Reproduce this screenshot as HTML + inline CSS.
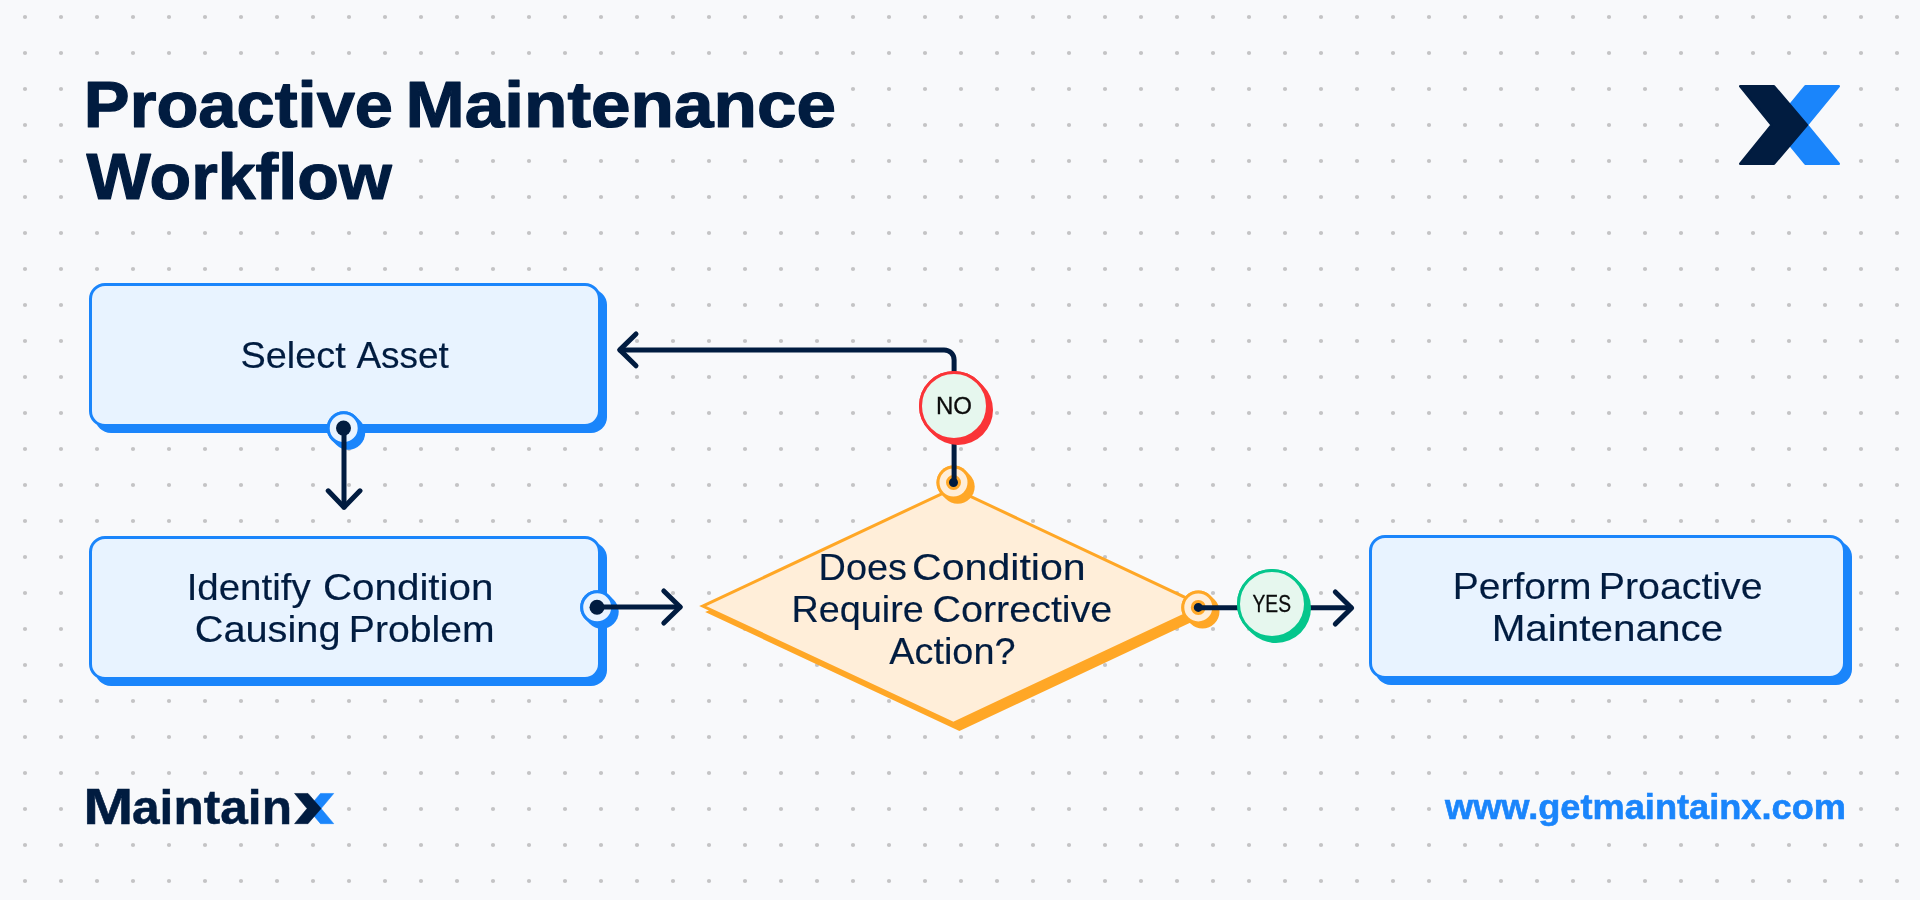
<!DOCTYPE html>
<html lang="en">
<head>
<meta charset="utf-8">
<title>Proactive Maintenance Workflow</title>
<style>
  html, body { margin: 0; padding: 0; }
  body { width: 1920px; height: 900px; overflow: hidden; background: #f8f9fb; font-family: "Liberation Sans", sans-serif; }
  svg { display: block; position: absolute; left: 0; top: 0; will-change: transform; }
  text { font-family: "Liberation Sans", sans-serif; }
  .navy { fill: #011c40; }
  .lbl { fill: #011c40; font-size: 36px; stroke: #011c40; stroke-width: 0.15px; }
</style>
</head>
<body>
<svg width="1920" height="900" viewBox="0 0 1920 900">
  <defs>
    <pattern id="dots" x="7" y="-1" width="36" height="36" patternUnits="userSpaceOnUse">
      <circle cx="18" cy="18" r="2.1" fill="#c4c4c5"/>
    </pattern>
  </defs>

  <!-- background + dotted grid -->
  <rect x="0" y="0" width="1920" height="900" fill="#f8f9fb"/>
  <rect x="0" y="0" width="1920" height="900" fill="url(#dots)"/>

  <!-- masks that hide the dots behind headline / logos / url -->
  <g fill="#f8f9fb">
    <rect x="84" y="60" width="756" height="90"/>
    <rect x="84" y="132" width="314" height="90"/>
    <rect x="1736" y="82" width="107" height="86"/>
    <rect x="84" y="786" width="254" height="42"/>
    <rect x="1442" y="790" width="407" height="40"/>
  </g>

  <!-- headline -->
  <g class="navy" font-weight="700" font-size="64.5" stroke="#011c40" stroke-width="1.2" stroke-linejoin="round">
    <text x="83.86" y="126.6" textLength="309.18" lengthAdjust="spacingAndGlyphs">Proactive</text>
    <text x="405.45" y="126.6" textLength="430.65" lengthAdjust="spacingAndGlyphs">Maintenance</text>
    <text x="86.49" y="198.6" textLength="305.40" lengthAdjust="spacingAndGlyphs">Workflow</text>
  </g>

  <!-- top-right X logo -->
  <g id="xlogo" transform="translate(1739,85)" stroke-linejoin="round" stroke-width="2.4">
    <path d="M66.400 1.200 L99.800 1.200 L68 40 L99.800 78.800 L66.400 78.800 L34.500 40 Z" fill="#1a85fb" stroke="#1a85fb"/>
    <path d="M1.200 1.200 L35 1.200 L68 40 L35 78.800 L1.200 78.800 L32.600 40 Z" fill="#011c40" stroke="#011c40"/>
  </g>

  <!-- ===== boxes ===== -->
  <!-- box 1 : Select Asset -->
  <g id="box1">
    <rect x="95" y="289" width="512" height="144" rx="16" ry="16" fill="#1a85fb"/>
    <rect x="90.5" y="284.5" width="509" height="141" rx="14.5" ry="14.5" fill="#e8f3ff" stroke="#1a85fb" stroke-width="3"/>
  </g>
  <!-- box 2 : Identify Condition -->
  <g id="box2">
    <rect x="95" y="542" width="512" height="144" rx="16" ry="16" fill="#1a85fb"/>
    <rect x="90.5" y="537.5" width="509" height="141" rx="14.5" ry="14.5" fill="#e8f3ff" stroke="#1a85fb" stroke-width="3"/>
  </g>
  <!-- box 3 : Perform Proactive Maintenance -->
  <g id="box3">
    <rect x="1375" y="541" width="477" height="144" rx="16" ry="16" fill="#1a85fb"/>
    <rect x="1370.5" y="536.5" width="474" height="141" rx="14.5" ry="14.5" fill="#e8f3ff" stroke="#1a85fb" stroke-width="3"/>
  </g>

  <!-- diamond -->
  <g id="diamond">
    <path d="M702.7 606.1 L953.4 488.3 L1203.500 606.1 L953.4 723.3 Z" transform="translate(6,6)" fill="#ffa726" stroke="#ffa726" stroke-width="3"/>
    <path d="M702.7 606.1 L953.4 488.3 L1203.500 606.1 L953.4 723.3 Z" fill="#ffeed9" stroke="#ffa726" stroke-width="3" stroke-linejoin="miter"/>
  </g>

  <!-- ===== connector rings ===== -->
  <g fill="none" stroke-linecap="round" stroke-width="34">
    <path d="M343.7 428.2 l4.500 4.500" stroke="#1a85fb"/>
    <path d="M597.2 607.3 l4.500 4.500" stroke="#1a85fb"/>
    <path d="M953.5 482.5 l4.200 4.200" stroke="#ffa726"/>
    <path d="M1198.3 607.4 l4.200 4.200" stroke="#ffa726"/>
  </g>
  <circle cx="343.7" cy="428.2" r="15.5" fill="#e8f3ff" stroke="#1a85fb" stroke-width="3"/>
  <circle cx="597.2" cy="607.3" r="15.5" fill="#e8f3ff" stroke="#1a85fb" stroke-width="3"/>
  <circle cx="953.5" cy="482.5" r="15.5" fill="#ffeed9" stroke="#ffa726" stroke-width="3"/>
  <circle cx="1198.3" cy="607.4" r="15.5" fill="#ffeed9" stroke="#ffa726" stroke-width="3"/>

  <!-- ===== connector lines / arrows ===== -->
  <circle cx="953.5" cy="482.5" r="6" fill="#011c40" stroke="#ffa726" stroke-width="3"/>
  <circle cx="1198.3" cy="607.4" r="6" fill="#011c40" stroke="#ffa726" stroke-width="3"/>
  <g fill="none" stroke="#011c40" stroke-width="5" stroke-linecap="round" stroke-linejoin="round">
    <!-- box1 -> box2 -->
    <path d="M344 428 V507"/>
    <path d="M328.2 490.8 L344 507.2 L360 490.8"/>
    <!-- box2 -> diamond -->
    <path d="M597 607.1 H680"/>
    <path d="M663.8 591 L680.2 607 L663.8 623"/>
    <!-- diamond -> NO -> box1 -->
    <path d="M954.1 483 V360 A10 10 0 0 0 944.1 349.900 H620"/>
    <path d="M636 334 L619.800 349.900 L636 365.800"/>
    <!-- diamond -> YES -> box3 -->
    <path d="M1198.500 607.700 H1351"/>
    <path d="M1335.300 592 L1351.600 608 L1335.300 624"/>
  </g>
  <circle cx="343.5" cy="428.1" r="7.5" fill="#011c40"/>
  <circle cx="597" cy="607.3" r="7.5" fill="#011c40"/>

  <!-- NO badge -->
  <g>
    <path d="M954 405.900 l4 4" fill="none" stroke="#fa3437" stroke-width="70" stroke-linecap="round"/>
    <circle cx="954" cy="405.900" r="33.500" fill="#e6f7ee" stroke="#fa3437" stroke-width="3"/>
    <text x="936" y="414" font-size="23" fill="#0c0c0c" stroke="#0c0c0c" stroke-width="0.3" textLength="36" lengthAdjust="spacingAndGlyphs">NO</text>
  </g>
  <!-- YES badge -->
  <g>
    <path d="M1272 603.900 l4 4" fill="none" stroke="#05c68c" stroke-width="70" stroke-linecap="round"/>
    <circle cx="1272" cy="603.900" r="33.500" fill="#e6f7ee" stroke="#05c68c" stroke-width="3"/>
    <text x="1252.500" y="611.800" font-size="23" fill="#0c0c0c" stroke="#0c0c0c" stroke-width="0.3" textLength="38.500" lengthAdjust="spacingAndGlyphs">YES</text>
  </g>

  <!-- ===== labels ===== -->
  <g class="lbl">
    <text x="240.52" y="367.8" textLength="105.22" lengthAdjust="spacingAndGlyphs">Select</text>
    <text x="356.40" y="367.8" textLength="92.38" lengthAdjust="spacingAndGlyphs">Asset</text>
    <text x="186.65" y="599.6" textLength="123.98" lengthAdjust="spacingAndGlyphs">Identify</text>
    <text x="322.90" y="599.6" textLength="170.57" lengthAdjust="spacingAndGlyphs">Condition</text>
    <text x="194.70" y="641.5" textLength="145.85" lengthAdjust="spacingAndGlyphs">Causing</text>
    <text x="348.85" y="641.5" textLength="145.77" lengthAdjust="spacingAndGlyphs">Problem</text>
    <text x="1452.82" y="599.0" textLength="138.73" lengthAdjust="spacingAndGlyphs">Perform</text>
    <text x="1598.73" y="599.0" textLength="163.84" lengthAdjust="spacingAndGlyphs">Proactive</text>
    <text x="1491.65" y="640.8" textLength="231.53" lengthAdjust="spacingAndGlyphs">Maintenance</text>
    <text x="818.58" y="579.7" textLength="88.41" lengthAdjust="spacingAndGlyphs">Does</text>
    <text x="911.98" y="579.7" textLength="173.70" lengthAdjust="spacingAndGlyphs">Condition</text>
    <text x="791.48" y="621.5" textLength="132.28" lengthAdjust="spacingAndGlyphs">Require</text>
    <text x="932.50" y="621.5" textLength="179.83" lengthAdjust="spacingAndGlyphs">Corrective</text>
    <text x="889.39" y="664.0" textLength="126.05" lengthAdjust="spacingAndGlyphs">Action?</text>
  </g>

  <!-- bottom-left MaintainX wordmark -->
  <g>
    <g font-size="49" font-weight="700" class="navy" stroke="#011c40" stroke-width="0.5">
      <text x="83.300" y="824.200" font-size="50" textLength="50" lengthAdjust="spacingAndGlyphs">M</text>
      <text x="132" y="824.200" textLength="160" lengthAdjust="spacingAndGlyphs">aintain</text>
    </g>
    <g transform="translate(294.1,793) scale(0.397,0.389)" stroke-linejoin="round" stroke-width="1.5">
      <path d="M66.400 1.200 L99.800 1.200 L68 40 L99.800 78.800 L66.400 78.800 L34.500 40 Z" fill="#1a85fb" stroke="#1a85fb"/>
      <path d="M1.200 1.200 L35 1.200 L68 40 L35 78.800 L1.200 78.800 L32.600 40 Z" fill="#011c40" stroke="#011c40"/>
    </g>
  </g>

  <!-- url -->
  <text x="1445" y="818.700" font-size="34.500" font-weight="700" fill="#1a85fb" stroke="#1a85fb" stroke-width="0.6" textLength="401" lengthAdjust="spacingAndGlyphs">www.getmaintainx.com</text>
</svg>
</body>
</html>
